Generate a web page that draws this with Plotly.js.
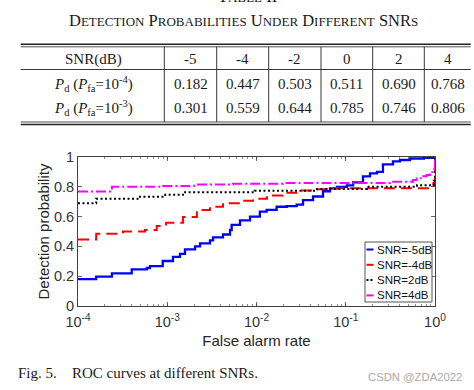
<!DOCTYPE html>
<html><head><meta charset="utf-8">
<script src="https://cdn.plot.ly/plotly-3.0.1.min.js"></script>
<style>html,body{margin:0;padding:0;background:#fff;} #chart{width:474px;height:390px;}</style>
</head><body><div id="chart"></div>
<script>
// ---- table data ----
const tableSnr = ['-5', '-4', '-2', '0', '2', '4'];
const pdAt1e4 = [0.182, 0.447, 0.503, 0.511, 0.690, 0.768];
const pdAt1e3 = [0.301, 0.559, 0.644, 0.785, 0.746, 0.806];

// ---- ROC curve data ----
const seriesNames = ['SNR=-5dB', 'SNR=-4dB', 'SNR=2dB', 'SNR=4dB'];
const farM5 = [1e-4, 1.6e-4, 2.4e-4, 4.0e-4, 5.9e-4, 6.4e-4, 8.9e-4, 1.16e-3, 1.39e-3, 1.58e-3, 2.05e-3, 2.33e-3, 3.01e-3, 3.26e-3, 4.21e-3, 5.05e-3, 5.27e-3, 6.53e-3, 8.46e-3, 1.09e-2, 1.30e-2, 1.68e-2, 2.18e-2, 2.82e-2, 3.32e-2, 4.30e-2, 5.56e-2, 6.66e-2, 7.98e-2, 0.103, 0.121, 0.156, 0.187, 0.224, 0.261, 0.338, 0.405, 0.525, 0.75, 1];
const pdM5  = [0.181, 0.197, 0.219, 0.246, 0.255, 0.268, 0.302, 0.33, 0.35, 0.38, 0.40, 0.42, 0.44, 0.46, 0.48, 0.51, 0.545, 0.575, 0.60, 0.633, 0.645, 0.666, 0.67, 0.68, 0.71, 0.735, 0.77, 0.79, 0.80, 0.81, 0.83, 0.87, 0.89, 0.90, 0.95, 0.97, 0.98, 0.99, 0.995, 1];
const farM4 = [1e-4, 1.6e-4, 3.19e-4, 5.63e-4, 7.62e-4, 9.7e-4, 1.50e-3, 2.15e-3, 3.01e-3, 4.21e-3, 6.53e-3, 9.14e-3, 1.31e-2, 1.98e-2, 3.07e-2, 4.76e-2, 7.2e-2, 0.96, 0.99, 1];
const pdM4  = [0.447, 0.485, 0.50, 0.51, 0.537, 0.559, 0.597, 0.645, 0.666, 0.69, 0.707, 0.72, 0.742, 0.76, 0.775, 0.783, 0.79, 0.825, 0.83, 1];
const far2  = [1e-4, 1.6e-4, 4.95e-4, 9.5e-4, 1.50e-3, 9.5e-3, 4.76e-2, 0.173, 0.629, 0.97, 0.99, 1];
const pd2   = [0.69, 0.72, 0.734, 0.746, 0.763, 0.774, 0.785, 0.80, 0.81, 0.84, 0.86, 1];
const far4  = [1e-4, 2.4e-4, 9.0e-4, 2.0e-3, 5.46e-3, 1.98e-2, 0.313, 0.567, 0.624, 0.735, 0.807, 0.88, 0.94, 1];
const pd4   = [0.768, 0.80, 0.806, 0.815, 0.82, 0.825, 0.834, 0.845, 0.857, 0.87, 0.88, 0.90, 0.92, 1];

const xTickVals = [1e-4, 1e-3, 1e-2, 1e-1, 1];
const xTickText = ['10<sup>-4</sup>', '10<sup>-3</sup>', '10<sup>-2</sup>', '10<sup>-1</sup>', '10<sup>0</sup>'];
const yTickVals = [0, 0.2, 0.4, 0.6, 0.8, 1];
const yTickText = ['0', '0.2', '0.4', '0.6', '0.8', '1'];

// ---- page geometry (pixels) ----
const W = 474, H = 390;
const L = 78, R = 435, T = 157, B = 306;
const px = v => (v - L) / (R - L);
const py = v => (B - v) / (B - T);

const serif = 'Liberation Serif, Times New Roman, serif';
const sans = 'Liberation Sans, Arial, sans-serif';
const ink = '#1a1a1a';

const colors = ['#0000ff', '#ff0000', '#000000', '#ff00ff'];
const dashes = ['solid', '11px,6px', '2px,2.5px', '10px,3px,2px,3px'];
const widths = [2.3, 2, 2, 2];
const xs = [farM5, farM4, far2, far4];
const ys = [pdM5, pdM4, pd2, pd4];

const traces = seriesNames.map((n, i) => ({
  type: 'scatter', mode: 'lines', name: n, x: xs[i], y: ys[i], showlegend: false,
  line: {color: colors[i], width: widths[i], dash: dashes[i], shape: 'hv'}
}));

const shapes = [];
const annotations = [];
function hline(y, x0, x1, w, c) {
  shapes.push({type: 'line', xref: 'paper', yref: 'paper', x0: px(x0), x1: px(x1), y0: py(y), y1: py(y), line: {color: c || '#222', width: w}});
}
function vline(x, y0, y1, w) {
  shapes.push({type: 'line', xref: 'paper', yref: 'paper', x0: px(x), x1: px(x), y0: py(y0), y1: py(y1), line: {color: '#222', width: w}});
}
function text(t, x, y, opts) {
  opts = opts || {};
  annotations.push({
    xref: 'paper', yref: 'paper', x: px(x), y: py(y), text: t, showarrow: false,
    xanchor: opts.xanchor || 'center', yanchor: opts.yanchor || 'middle',
    font: {family: opts.family || serif, size: opts.size || 15, color: opts.color || ink}
  });
}

// table title (small caps)
const sc = s => '<span style="font-size:13px">' + s + '</span>';
text('T' + sc('ABLE') + ' II', 247, -3.5, {size: 16.5});
text('D' + sc('ETECTION') + ' P' + sc('ROBABILITIES') + ' U' + sc('NDER') + ' D' + sc('IFFERENT') + ' SNR' + sc('S'), 243.5, 20, {size: 16.5});

// table rules
const tL = 20.7, tR = 470.7;
hline(44.3, tL, tR, 1.5);
hline(46.8, tL, tR, 0.8);
hline(69.5, tL, tR, 0.9);
hline(122, tL, tR, 0.8);
hline(124.5, tL, tR, 1.5);
const colEdges = [164.3, 216.7, 268.7, 321, 372.7, 424.3];
colEdges.forEach(x => vline(x, 46.8, 122, 0.9));
const colCenters = [190.5, 242.7, 294.9, 346.9, 398.5, 448];

text('SNR(dB)', 93, 59);
text('<i>P</i><sub>d</sub> (<i>P</i><sub>fa</sub>=10<sup>-4</sup>)', 93, 83.5);
text('<i>P</i><sub>d</sub> (<i>P</i><sub>fa</sub>=10<sup>-3</sup>)', 93, 108);
tableSnr.forEach((s, i) => {
  text(s, colCenters[i], 59);
  text(pdAt1e4[i].toFixed(3), colCenters[i], 83.5);
  text(pdAt1e3[i].toFixed(3), colCenters[i], 108);
});

// caption + watermark
text('Fig. 5.', 16, 373, {xanchor: 'left'});
text('ROC curves at different SNRs.', 70, 373, {xanchor: 'left'});
text('CSDN @ZDA2022', 366, 376.5, {xanchor: 'left', family: sans, size: 11.3, color: '#aaaaaa'});

// legend (custom, MATLAB-style short samples)
shapes.push({type: 'rect', xref: 'paper', yref: 'paper', x0: px(365), x1: px(432), y0: py(242), y1: py(302),
  line: {color: '#262626', width: 0.8}, fillcolor: '#ffffff', layer: 'above'});
seriesNames.forEach((n, i) => {
  const yy = 249.5 + i * 15.3;
  shapes.push({type: 'line', xref: 'paper', yref: 'paper', x0: px(366.5), x1: px(373.5), y0: py(yy), y1: py(yy),
    line: {color: colors[i], width: 2, dash: i === 2 ? '2px,2px' : 'solid'}, layer: 'above'});
  text(n, 374.5, yy, {xanchor: 'left', family: sans, size: 11.5, color: '#111'});
});

const axisCommon = {
  showline: true, linecolor: '#404040', linewidth: 1, mirror: 'ticks',
  ticks: 'inside', ticklen: 4, tickcolor: '#404040', tickwidth: 0.8,
  showgrid: false, zeroline: false,
  tickfont: {family: sans, size: 14.5, color: '#333'}
};

const layout = {
  width: W, height: H,
  margin: {l: L, r: W - R, t: T, b: H - B, pad: 0},
  paper_bgcolor: '#fff', plot_bgcolor: '#fff',
  showlegend: false,
  xaxis: Object.assign({}, axisCommon, {
    type: 'log', range: [-4, 0], tickmode: 'array', tickvals: xTickVals, ticktext: xTickText,
    ticklabelstandoff: 3,
    minor: {ticks: 'inside', ticklen: 2, tickcolor: '#404040', tickwidth: 0.6, dtick: 'D1', showgrid: false},
    title: {text: 'False alarm rate', font: {family: sans, size: 15, color: '#262626'}, standoff: 6}
  }),
  yaxis: Object.assign({}, axisCommon, {
    range: [0, 1], tickmode: 'array', tickvals: yTickVals, ticktext: yTickText,
    title: {text: 'Detection probability', font: {family: sans, size: 15, color: '#262626'}, standoff: 0}
  }),
  shapes: shapes,
  annotations: annotations
};

Plotly.newPlot('chart', traces, layout, {staticPlot: true, displayModeBar: false});
</script>
</body></html>
